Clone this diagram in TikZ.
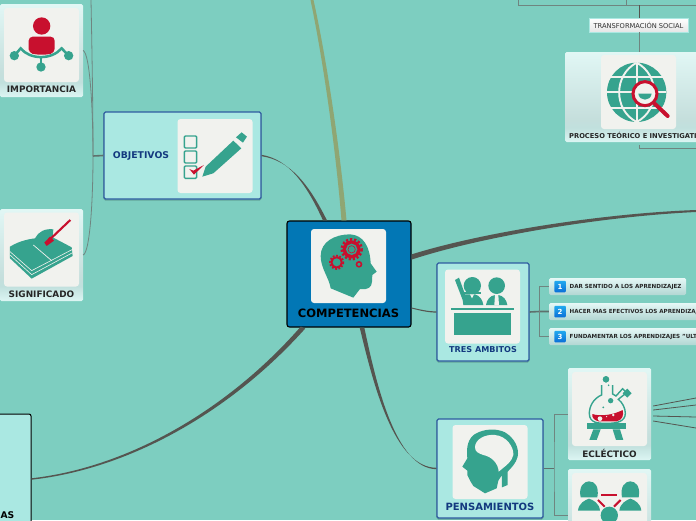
\documentclass[tikz,border=0pt]{standalone}
\usepackage{fontspec}
\setmainfont{DejaVu Sans}
\usetikzlibrary{calc}
\definecolor{bgc}{HTML}{7DCEC0}
\definecolor{lightbox}{HTML}{AAE8E2}
\definecolor{panelc}{HTML}{F1F2EE}
\definecolor{greenc}{HTML}{36A38E}
\definecolor{redc}{HTML}{C8102E}
\definecolor{bluec}{HTML}{0277B5}
\definecolor{navyc}{HTML}{13397F}
\definecolor{borderc}{HTML}{2F5BA0}
\definecolor{darkc}{HTML}{555550}
\definecolor{olivec}{HTML}{8FA673}
\definecolor{greyc}{HTML}{6F8580}
\definecolor{numt}{HTML}{22A9EE}
\definecolor{numb}{HTML}{0A6FD8}
\pgfdeclareverticalshading{imgsh}{100bp}{color(0bp)=(lightbox!40!white);color(25bp)=(lightbox!40!white);color(33bp)=(lightbox!60!white!85!gray);color(38bp)=(lightbox!50!white!82!gray);color(75bp)=(lightbox!35!white);color(100bp)=(lightbox!35!white)}
\tikzset{
 x=1pt,y=-1pt,
 panel/.style={fill=panelc,rounded corners=3pt,inner sep=0pt,minimum width=75pt,minimum height=74pt},
 mainbox/.style={fill=lightbox,draw=borderc,line width=1.1pt,rounded corners=1.5pt,inner sep=0pt,
   preaction={draw=black,opacity=.2,transform canvas={yshift=-1pt}}},
 imgbox/.style={shading=imgsh,rounded corners=1.5pt,inner sep=0pt},
 itembox/.style={top color=white!70!lightbox,bottom color=black!15!lightbox!70!white,rounded corners=1.5pt,inner sep=0pt,minimum height=17pt},
 numbox/.style={top color=numt,bottom color=numb,rounded corners=1pt,inner sep=0pt,minimum size=11.5pt,text=white,font=\bfseries\fontsize{7}{8}\selectfont},
 itemtext/.style={anchor=west,inner sep=0pt,text=black!85,font=\bfseries\fontsize{5.6}{6}\selectfont},
 labelk/.style={inner sep=0pt,text=black!85,font=\bfseries\fontsize{8.9}{10}\selectfont},
 labeln/.style={inner sep=0pt,text=navyc,font=\bfseries\fontsize{8.1}{10}\selectfont},
 tap/.style={fill=darkc},
 thin link/.style={draw=greyc,line width=.8pt},
 trunk/.style={draw=greyc!85!black,line width=1.6pt},
 zA/.style={shift={(0pt,0pt)},x=.3333pt,y=-.3333pt},
 zB/.style={shift={(270pt,-200pt)},x=.3333pt,y=-.3333pt},
 zC/.style={shift={(430pt,-255pt)},x=.3333pt,y=-.3333pt},
 zD/.style={shift={(430pt,-360pt)},x=.3333pt,y=-.3333pt},
 zE/.style={shift={(500pt,0pt)},x=.3333pt,y=-.3333pt},
}
\newcommand\taper[7][tap]{\fill[#1] ($(#2)+(#6)$) .. controls ($(#3)+.67*(#6)+.33*(#7)$) and ($(#4)+.33*(#6)+.67*(#7)$) .. ($(#5)+(#7)$) -- ($(#5)-(#7)$) .. controls ($(#4)-.33*(#6)-.67*(#7)$) and ($(#3)-.67*(#6)-.33*(#7)$) .. ($(#2)-(#6)$) -- cycle;}
\begin{document}
\begin{tikzpicture}
\useasboundingbox (0,0) rectangle (696,520);
\clip (0,0) rectangle (696,520);
\fill[bgc] (0,0) rectangle (696,520);

% ---------- boxes
\node[fill=bluec,draw=black,line width=1.1pt,rounded corners=2.5pt,minimum width=124pt,minimum height=106pt,inner sep=0pt] (c) at (349,274) {};
\node[panel] (cp) at (348.5,266) {};
\node[inner sep=0pt,text=black,font=\bfseries\fontsize{11.5}{13}\selectfont] (cl) at (348.5,313) {COMPETENCIAS};

\node[mainbox,minimum width=157pt,minimum height=87pt] (obj) at (182.5,155.5) {};
\node[panel,minimum height=74pt] (objp) at (215,156) {};
\node[labeln,font=\bfseries\fontsize{9.3}{11}\selectfont] (objl) at (141,156) {OBJETIVOS};

\node[imgbox,minimum width=83pt,minimum height=93pt] (imp) at (41.5,50.5) {};
\node[panel] (impp) at (41.5,45) {};
\node[labelk] (impl) at (41.5,89) {IMPORTANCIA};

\node[imgbox,minimum width=83pt,minimum height=92pt] (sig) at (41.5,255) {};
\node[panel] (sigp) at (41.5,249.5) {};
\node[labelk] (sigl) at (41.5,294) {SIGNIFICADO};

\node[mainbox,minimum width=92pt,minimum height=98pt] (tres) at (483,312) {};
\node[panel,fill=panelc] (tresp) at (482.5,306.5) {};
\node[labeln] (tresl) at (483,350) {TRES AMBITOS};

\node[itembox,minimum width=137pt] (it1) at (617.5,286.5) {};
\node[itembox,minimum width=160pt] (it2) at (629,311.5) {};
\node[itembox,minimum width=160pt] (it3) at (629,336.5) {};
\node[numbox] (n1) at (560,286.5) {1};
\node[numbox] (n2) at (560,311.5) {2};
\node[numbox] (n3) at (560,336.5) {3};
\node[itemtext] (t1) at (569.5,287) {DAR SENTIDO A LOS APRENDIZAJEZ};
\node[itemtext] (t2) at (569.5,312) {HACER MAS EFECTIVOS LOS APRENDIZAJ};
\node[itemtext] (t3) at (569.5,337) {FUNDAMENTAR LOS APRENDIZAJES "ULT};

\node[mainbox,minimum width=106pt,minimum height=99pt] (pen) at (490,468.5) {};
\node[panel] (penp) at (490,462) {};
\node[labeln,font=\bfseries\fontsize{10}{12}\selectfont] (penl) at (490,507) {PENSAMIENTOS};

\node[imgbox,minimum width=83pt,minimum height=92pt] (ecl) at (609.5,414) {};
\node[panel] (eclp) at (609.5,409) {};
\node[labelk] (ecll) at (609.5,453) {ECLÉCTICO};

\node[imgbox,minimum width=83pt,minimum height=92pt] (equ) at (609.5,515) {};
\node[panel] (equp) at (609.5,510) {};

\node[top color=white,bottom color=black!10,draw=lightbox,line width=.7pt,inner sep=0pt,minimum width=99pt,minimum height=14pt,text=black!80,font=\fontsize{6.7}{8}\selectfont] (tr) at (638.5,25) {TRANSFORMACIÓN SOCIAL};

\node[imgbox,minimum width=160pt,minimum height=90pt] (pro) at (645,97) {};
\node[panel] (prop) at (638.5,92) {};
\node[itemtext,font=\bfseries\fontsize{6.7}{8}\selectfont] (prol) at (569,135.5) {PROCESO TEÓRICO E INVESTIGATI};

\node[fill=lightbox,draw=black,line width=1pt,rounded corners=2pt,inner sep=0pt,minimum width=80pt,minimum height=130pt] (lb) at (-9,479) {};
\node[labelk,text=black,font=\bfseries\fontsize{9.2}{11}\selectfont,anchor=east] (lbl) at (14.5,515) {AS};

% ---------- connectors
\coordinate (topfree) at (312,0);
\coordinate (rightfree) at (696,211);
\taper[fill=olivec]{topfree}{325,60}{338,150}{$(c.north)+(-5,0)$}{1.5,0}{2.5,0}
\taper{obj.east}{290,160}{308,185}{$(c.north)+(-24,0)$}{0,.7}{2,0}
\taper{$(c.east)+(0,-17)$}{480,235}{600,215}{rightfree}{0,2.6}{0,1}
\taper{$(c.east)+(0,34)$}{420,310}{428,312}{tres.west}{0,.5}{0,.6}
\taper{$(c.south)+(13,0)$}{375,385}{395,468}{pen.west}{2.3,0}{0,.7}
\taper{$(c.south)+(-46,0)$}{230,410}{130,468}{lb.east}{2.2,1}{0,.7}

\coordinate (jl) at (93,156);
\coordinate (topl) at (91,0);
\draw[trunk] (obj.west) -- (jl);
\draw[thin link] (topl) .. controls (92,50) and (93,110) .. (jl);
\draw[thin link] (imp.east) .. controls (90,54) and (93,110) .. (jl);
\draw[thin link] (sig.east) .. controls (90,252) and (93,200) .. (jl);

\coordinate (jt) at (539.5,311.5);
\draw[trunk] (tres.east) -- (jt) -- (it2.west);
\draw[thin link] (it1.west) -- (jt |- it1.west) -- (jt) -- (jt |- it3.west) -- (it3.west);

\coordinate (jp) at (554,468.5);
\draw[trunk,line width=1pt] (pen.east) -- (jp);
\draw[thin link] (ecl.west) -- (jp |- ecl.west) -- (jp) -- (jp |- equ.west) -- (equ.west);

\foreach \sy/\ex/\ey in {406/696/398,410/696/405,416/696/417,421/696/428}{
  \draw[darkc,line width=.8pt] ($(ecl.east)+(2,\sy-414)$) -- (\ex,\ey);
}

\coordinate (toph) at (518,5);
\coordinate (tophb) at (626,5);
\coordinate (tophc) at (639,5);
\coordinate (topr) at (696,5);
\draw[thin link] (518,0) -- (toph) -- (topr);
\draw[thin link] (626,0) -- (tophb);
\draw[darkc,line width=1pt] (tophc) -- (tr.north -| tophc);
\draw[thin link] (tr.south -| tophc) -- (pro.north -| tophc);
\coordinate (prb) at (639,148);
\draw[thin link] (prol.south -| prb) ++(0,6) -- (prb) -- (696,148);

% ---------- icon: head with gears
\begin{scope}[zB]
\fill[greenc] (182,265) .. controls (178,235) and (152,205) .. (152,168) .. controls (152,125) and (195,103) .. (240,103)
 .. controls (280,105) and (300,140) .. (302,190) -- (320,215) -- (307,225) -- (306,245) .. controls (305,262) and (295,270) .. (270,267) -- (250,293) -- cycle;
\fill[redc] (245,148) circle (27);
\draw[redc,line width=2.6pt,dash pattern=on 2.2pt off 1.9pt] (245,148) circle (30);
\fill[greenc] (245,148) circle (17);
\draw[redc,line width=.6pt] (245,148) circle (11);
\fill[redc] (200,187) circle (18);
\draw[redc,line width=1.8pt,dash pattern=on 1.8pt off 1.6pt] (200,187) circle (20);
\fill[greenc] (200,187) circle (12);
\draw[redc,line width=1.6pt] (267,193) circle (7.5);
\end{scope}

% ---------- icon: importancia
\begin{scope}[zA]
\fill[redc] (125,78) circle (26);
\fill[redc,rounded corners=4pt] (86,158) -- (86,110) -- (164,110) -- (164,158) .. controls (140,165) and (110,165) .. (86,158) -- cycle;
\draw[greenc,line width=2.5pt] (43,167) -- (62,145) .. controls (90,180) and (155,180) .. (185,145) -- (206,167);
\draw[greenc,line width=2.5pt] (123,172) -- (123,201);
\fill[greenc] (43,167) circle (14) (206,167) circle (14) (123,201) circle (14);
\end{scope}

% ---------- icon: objetivos
\begin{scope}[zA]
\draw[greenc,line width=1.4pt,rounded corners=1pt] (553,408) rectangle (590,444) (553,453) rectangle (590,489) (553,498) rectangle (590,535);
\fill[redc] (568,507) -- (580,512) -- (612,495) -- (582,524) -- cycle;
\fill[greenc] (607,530) -- (617,500) -- (700,422) -- (724,445) -- (640,520) -- cycle;
\fill[greenc] (708,412) -- (725,397) -- (741,410) -- (729,428) -- cycle;
\end{scope}

% ---------- icon: significado
\begin{scope}[zA]
\fill[greenc] (30,740) .. controls (60,722) and (85,718) .. (105,715) .. controls (115,695) and (135,685) .. (160,688) -- (158,712) -- (215,742) -- (218,768) -- (95,836) -- (30,775) -- cycle;
\draw[panelc,line width=.6pt] (30,755) -- (95,812) -- (218,748);
\draw[panelc,line width=.6pt] (30,765) -- (95,824) -- (218,758);
\draw[panelc,line width=.7pt] (100,735) -- (155,782);
\draw[redc,line width=2.1pt] (150,718) -- (211,660);
\fill[redc] (133,728) -- (150,710) -- (162,722) -- (140,738) -- cycle;
\end{scope}

% ---------- icon: tres ambitos
\begin{scope}[zC]
\fill[greenc] (127,92) circle (26);
\fill[greenc] (100,112) rectangle (153,117);
\fill[greenc] (75,75) -- (87,68) -- (105,118) -- (135,118) .. controls (150,122) and (158,135) .. (160,150) -- (100,150) -- (98,135) -- cycle;
\fill[panelc] (120,118) -- (132,118) -- (126,130) -- cycle;
\fill[greenc] (200,92) circle (25);
\fill[greenc] (168,150) .. controls (170,135) and (180,122) .. (195,120) -- (205,120) .. controls (220,122) and (230,135) .. (232,150) -- cycle;
\fill[panelc] (195,120) -- (205,120) -- (207,150) -- (193,150) -- cycle;
\fill[greenc] (62,158) rectangle (253,164);
\fill[greenc] (73,173) rectangle (243,240);
\end{scope}

% ---------- icon: pensamientos
\begin{scope}[zD]
\fill[greenc] (97,320) -- (112,295) .. controls (108,260) and (115,235) .. (135,222) .. controls (165,205) and (200,205) .. (225,217) .. controls (255,235) and (268,265) .. (263,290) .. controls (258,310) and (245,322) .. (233,335) -- (233,375) -- (216,382) -- (216,345) -- (205,362) -- (200,385) -- (165,400) -- (130,378) -- (122,365) -- (112,345) -- (112,332) -- cycle;
\fill[panelc] (135,262) .. controls (135,238) and (165,222) .. (195,225) .. controls (230,228) and (252,262) .. (250,285) .. controls (245,305) and (230,315) .. (218,325) -- (206,335) .. controls (205,310) and (185,290) .. (160,285) .. controls (145,280) and (135,275) .. cycle;
\end{scope}

% ---------- icon: eclectico
\begin{scope}[zD]
\fill[greenc] (528,58) circle (9.5) (542,122) circle (8) (536,76) circle (2.5) (520,142) circle (3);
\draw[greenc,line width=1.4pt,fill=panelc] (515,75) -- (515,105) .. controls (490,115) and (478,140) .. (478,160) .. controls (478,190) and (505,190) .. (532,190) .. controls (560,190) and (586,185) .. (586,160) .. controls (586,145) and (578,128) .. (565,118) -- (590,98) -- (578,86) -- (558,108) -- (548,102) -- (548,75);
\fill[greenc] (528,58) circle (9.5) (542,122) circle (8) (536,76) circle (2.5) (520,142) circle (3);
\fill[redc] (487,162) .. controls (510,170) and (550,165) .. (578,150) .. controls (582,165) and (578,180) .. (560,184) -- (505,184) .. controls (490,180) and (485,170) .. (487,162) -- cycle;
\fill[panelc] (510,176) circle (7) (550,165) circle (4) (530,170) circle (2);
\fill[greenc] (578,100) -- (592,86) -- (605,100) -- (592,113) -- cycle;
\fill[greenc] (472,190) rectangle (587,208);
\fill[greenc] (490,208) -- (512,208) -- (500,240) -- (478,240) -- cycle;
\fill[greenc] (548,208) -- (570,208) -- (580,240) -- (558,240) -- cycle;
\end{scope}

% ---------- icon: second thought
\begin{scope}[zD]
\fill[greenc] (452,412) .. controls (445,380) and (462,364) .. (477,364) .. controls (495,364) and (508,380) .. (502,412) -- cycle;
\fill[greenc] (444,452) .. controls (446,430) and (465,420) .. (477,416) .. controls (490,420) and (508,430) .. (510,452) -- cycle;
\fill[greenc] (576,412) .. controls (570,380) and (585,364) .. (601,364) .. controls (618,364) and (632,380) .. (626,412) -- cycle;
\fill[greenc] (568,452) .. controls (570,430) and (590,420) .. (601,416) .. controls (614,420) and (632,430) .. (634,452) -- cycle;
\fill[greenc] (538,466) circle (26);
\fill[redc] (514,401) rectangle (562,409);
\draw[redc,line width=2pt] (504,420) -- (524,440) (572,420) -- (552,440);
\end{scope}

% ---------- icon: globe
\begin{scope}[zE]
\fill[greenc] (410,277) circle (89);
\draw[panelc,line width=1.9pt] (321,230) -- (499,230) (321,277) -- (499,277) (321,324) -- (499,324) (410,188) -- (410,366);
\draw[panelc,line width=1.9pt] (410,188) .. controls (340,225) and (340,330) .. (410,366);
\draw[panelc,line width=1.9pt] (410,188) .. controls (480,225) and (480,330) .. (410,366);
\fill[panelc] (435,281) circle (38);
\fill[greenc] (415,281) -- (455,281) .. controls (452,305) and (418,305) .. cycle;
\draw[redc,line width=3pt] (435,281) circle (36);
\draw[redc,line width=4pt,line cap=round] (465,312) -- (503,348);
\end{scope}
\end{tikzpicture}
\end{document}
